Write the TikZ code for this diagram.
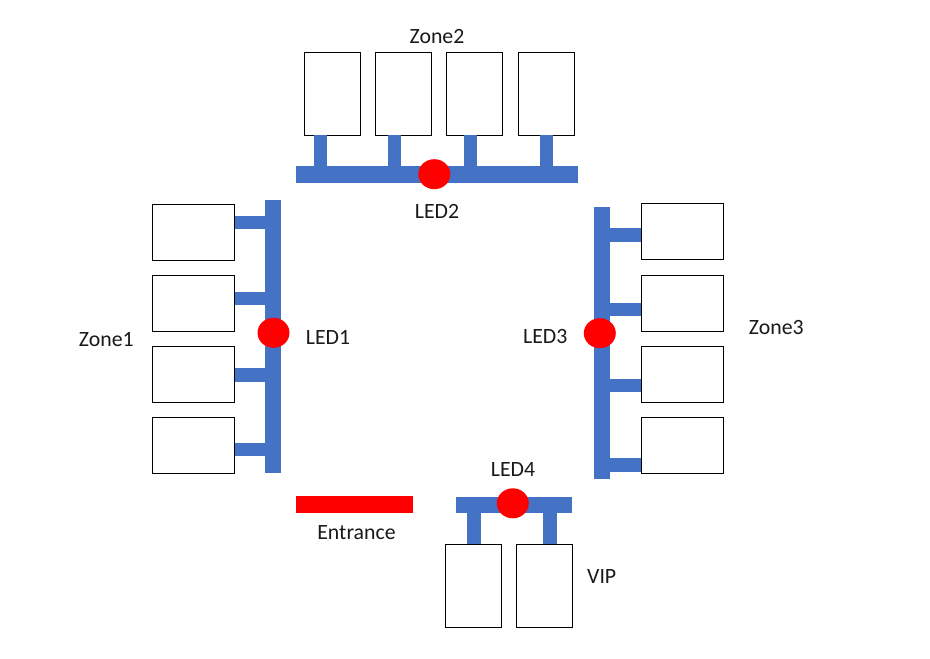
\documentclass[tikz,border=0pt]{standalone}
\usepackage{fontspec}
\setmainfont{Carlito}
\usetikzlibrary{positioning}
\usetikzlibrary{shapes.geometric}
\definecolor{barblue}{HTML}{4472C4}
\definecolor{ledred}{HTML}{FF0000}
\tikzstyle{Ahbox}=[draw=black,fill=white,line width=1pt,inner sep=0,outer sep=0,minimum width=82.5pt,minimum height=56pt]
\tikzstyle{Avbox}=[draw=black,fill=white,line width=1pt,inner sep=0,outer sep=0,minimum width=55.7pt,minimum height=82.4pt]
\tikzstyle{Abar}=[fill=barblue,inner sep=0,outer sep=0]
\tikzstyle{Aled}=[ellipse,fill=ledred,inner sep=0,outer sep=0,minimum width=32pt,minimum height=30pt]
\tikzstyle{Atext}=[inner sep=0,font=\fontsize{21.8}{24}\selectfont,text=black!90]
\tikzstyle{aS}=[every edge/.style={draw=barblue,line width=13.4pt}]

\begin{document}
\begin{tikzpicture}[aS,x=1pt,y=-1pt]
\path[use as bounding box] (0,0) rectangle (930,659);

\node[Abar,minimum width=15.7pt,minimum height=272.4pt] (bar1) at (272.8,336.5) {};
\node[Abar,minimum width=281.5pt,minimum height=17pt] (bar2) at (436.8,174.2) {};
\node[Abar,minimum width=15.7pt,minimum height=272.3pt] (bar3) at (602.2,343.2) {};
\node[Abar,minimum width=116pt,minimum height=15.7pt] (bar4) at (514,504.8) {};
\node[fill=ledred,inner sep=0,outer sep=0,minimum width=116.7pt,minimum height=16.7pt] (door) at (354.3,504.3) {};

\node[Ahbox] (z11) at (193.4,232) {};
\node[Ahbox] (z12) at (193.4,303) {};
\node[Ahbox] (z13) at (193.4,374) {};
\node[Ahbox] (z14) at (193.4,445.3) {};

\node[Avbox] (z21) at (332.2,93.8) {};
\node[Avbox] (z22) at (403.3,93.8) {};
\node[Avbox] (z23) at (474.3,93.8) {};
\node[Avbox] (z24) at (546.3,93.8) {};

\node[Ahbox] (z31) at (682.4,231.7) {};
\node[Ahbox] (z32) at (682.4,303) {};
\node[Ahbox] (z33) at (682.4,374) {};
\node[Ahbox] (z34) at (682.4,445.2) {};

\node[Avbox] (v1) at (473.5,586) {};
\node[Avbox] (v2) at (544.5,586) {};

% stubs do not leave the boxes at their middle
\coordinate (s11) at (235,222.5);
\coordinate (s12) at (235,298.7);
\coordinate (s13) at (235,375);
\coordinate (s14) at (235,449.3);
\coordinate (s21) at (320.3,135.3);
\coordinate (s22) at (394.5,135.3);
\coordinate (s23) at (470.5,135.3);
\coordinate (s24) at (546.7,135.3);
\coordinate (s31) at (640.7,235);
\coordinate (s32) at (640.7,309.3);
\coordinate (s33) at (640.7,385.5);
\coordinate (s34) at (640.7,465);
\coordinate (s41) at (474,544.3);
\coordinate (s42) at (550,544.3);

\path
(s11) edge (s11 -| bar1) (s12) edge (s12 -| bar1)
(s13) edge (s13 -| bar1) (s14) edge (s14 -| bar1)
(s21) edge (s21 |- bar2) (s22) edge (s22 |- bar2)
(s23) edge (s23 |- bar2) (s24) edge (s24 |- bar2)
(s31) edge (s31 -| bar3) (s32) edge (s32 -| bar3)
(s33) edge (s33 -| bar3) (s34) edge (s34 -| bar3)
(s41) edge (s41 |- bar4) (s42) edge (s42 |- bar4)
;

\node[Aled] (led1) at (273.5,332.8) {};
\node[Aled] (led2) at (434.3,174.2) {};
\node[Aled] (led3) at (599.8,333.2) {};
\node[Aled] (led4) at (512.8,503.3) {};

\node[Atext] (t1) at (106.3,339.8) {Zone1};
\node[Atext] (t2) at (437,36.8) {Zone2};
\node[Atext] (t3) at (776.3,327.8) {Zone3};
\node[Atext] (l1) at (328,337.8) {LED1};
\node[Atext] (l2) at (437,211.5) {LED2};
\node[Atext] (l3) at (545.3,336.8) {LED3};
\node[Atext] (l4) at (513,469.8) {LED4};
\node[Atext] (tv) at (601.7,576.8) {VIP};
\node[Atext] (td) at (356.5,532.5) {Entrance};

\end{tikzpicture}
\end{document}
